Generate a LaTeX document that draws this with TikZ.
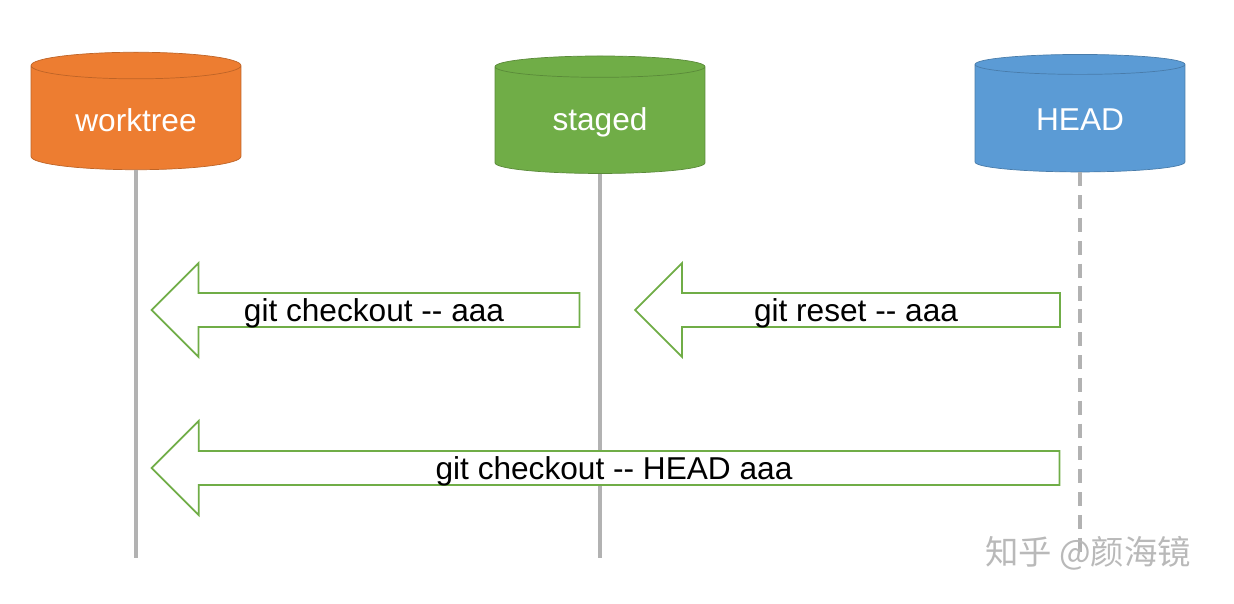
\documentclass[tikz,border=0pt]{standalone}
\usepackage{fontspec}
\setmainfont{Liberation Sans}
\newfontfamily\cjk{Noto Sans CJK SC}
\usetikzlibrary{shapes.geometric,shapes.arrows,positioning}
\definecolor{wtorange}{HTML}{ED7D31}
\definecolor{stgreen}{HTML}{70AD47}
\definecolor{hdblue}{HTML}{5B9BD5}
\begin{document}
\begin{tikzpicture}[x=0.02cm,y=-0.02cm,
  store/.style={cylinder,shape border rotate=90,aspect=0.2,draw,
    minimum width=4.2cm,minimum height=2.35cm,text=white,font=\fontsize{18}{20}\selectfont},
  cmd/.style={single arrow,shape border rotate=180,draw=stgreen,line width=1pt,fill=white,
    minimum width=1.88cm,single arrow head extend=0.44cm,single arrow head indent=0pt,
    font=\fontsize{18}{20}\selectfont,inner sep=0pt,text depth=-4pt},
  life/.style={draw=gray!60,line width=2pt}]
\useasboundingbox (0,0) rectangle (1234,604);

% stores
\node[store,fill=wtorange,draw=wtorange!80!black] (worktree) at (136,120) {worktree};
\node[store,fill=stgreen,draw=stgreen!80!black] (staged) at (600,122) {staged};
\node[store,fill=hdblue,draw=hdblue!80!black] (head) at (1080,120) {HEAD};

% lifelines
\coordinate (wtend) at (136,558);
\coordinate (stend) at (600,558);
\coordinate (hdend) at (1080,555);
\draw[life] (worktree.bottom) -- (wtend);
\draw[life] (staged.bottom) -- (stend);
\draw[life,dash pattern=on 8pt off 5pt] (head.bottom) -- (hdend);

% commands
\node[cmd,minimum height=8.56cm] (co) at (374,310) {git checkout {-}{-} aaa};
\node[cmd,minimum height=8.5cm] (reset) at (856,310) {git reset {-}{-} aaa};
\node[cmd,minimum height=18.16cm] (cohead) at (614,468) {git checkout {-}{-} HEAD aaa};

% watermark
\node[text=gray!55,font=\cjk\fontsize{19}{20}\selectfont] (mark) at (1088,553) {知乎 @颜海镜};
\end{tikzpicture}
\end{document}
